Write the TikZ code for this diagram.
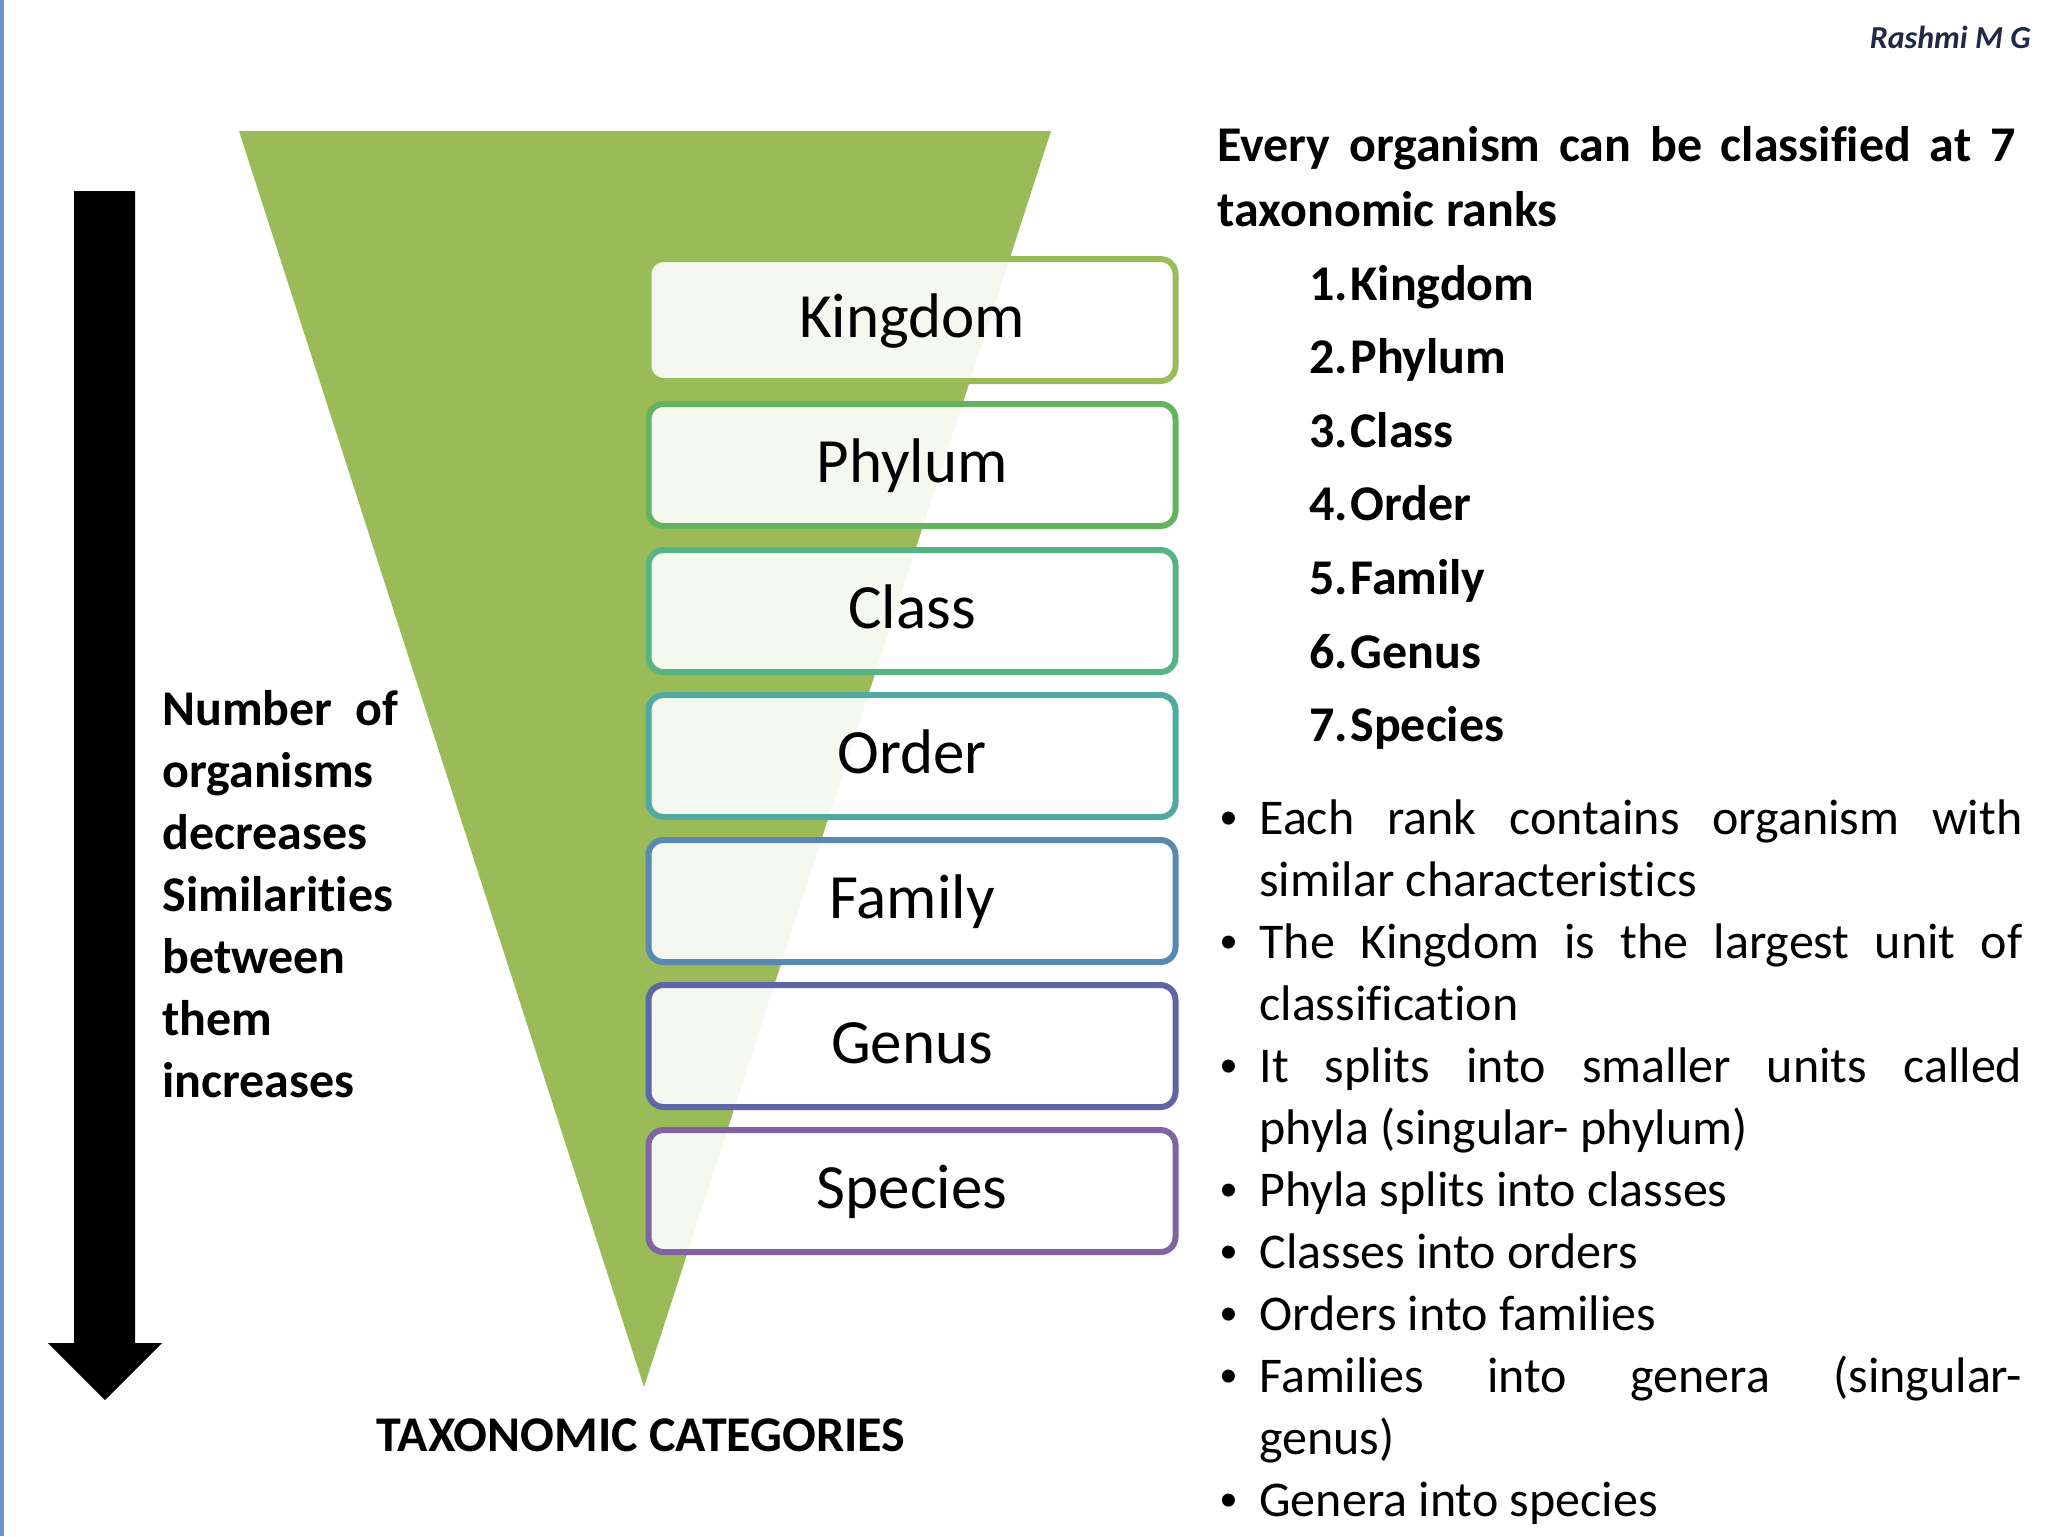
\documentclass[tikz,border=0pt]{standalone}
\usepackage{fontspec}
\setmainfont{Carlito}[Ligatures=NoCommon]
\newfontfamily\arialf{Liberation Sans}
\definecolor{tri}{HTML}{9BBB59}
\definecolor{cK}{HTML}{9BBB59}
\definecolor{cP}{HTML}{64B45F}
\definecolor{cC}{HTML}{55B482}
\definecolor{cO}{HTML}{50AAA0}
\definecolor{cF}{HTML}{5A88B0}
\definecolor{cG}{HTML}{5E66A8}
\definecolor{cS}{HTML}{8064A2}
\definecolor{edge}{HTML}{6F93C8}
\definecolor{sig}{HTML}{1F2A44}
\tikzset{
  rbox/.style={draw, line width=3pt, rounded corners=7.5pt, fill=white, fill opacity=0.9, text opacity=1,
    minimum width=263.5pt, minimum height=61pt, inner sep=0pt,
    font=\fontsize{31.5}{38}\selectfont, text height=20pt, text depth=3pt},
  txt/.style={anchor=base west, inner sep=0pt, font=\fontsize{25}{30}\selectfont},
  btxt/.style={anchor=base west, inner sep=0pt, font=\fontsize{25}{30}\selectfont\bfseries},
  bul/.style={anchor=base west, inner sep=0pt, font=\arialf\fontsize{24}{30}\selectfont},
}
\begin{document}
\begin{tikzpicture}[x=0.5pt, y=-0.5pt]
\useasboundingbox (0,0) rectangle (2048,1536);
\fill[white] (0,0) rectangle (2048,1536);
% left edge line
\fill[edge] (0,0) rectangle (4,1536);
% signature
\node[anchor=base east, inner sep=0pt, text=sig, font=\fontsize{16}{19}\selectfont\bfseries\itshape] (sign) at (2031,49) {Rashmi M G};
% triangle
\fill[tri] (239,131) -- (1051,131) -- (644,1387) -- cycle;
% arrow
\fill[black] (74,191) -- (135,191) -- (135,1343) -- (162,1343) -- (105,1400) -- (48,1343) -- (74,1343) -- cycle;
% boxes
\node[rbox, draw=cK] (kingdom) at (912,320) {Kingdom};
\node[rbox, draw=cP] (phylum) at (912,465) {Phylum};
\node[rbox, draw=cC] (class) at (912,611) {Class};
\node[rbox, draw=cO] (order) at (912,756) {Order};
\node[rbox, draw=cF] (family) at (912,901) {Family};
\node[rbox, draw=cG] (genus) at (912,1046) {Genus};
\node[rbox, draw=cS] (species) at (912,1191) {Species};
% left text
\node[btxt] (l1) at (162,725) {\makebox[118pt][s]{Number of}};
\node[btxt] (l2) at (162,787) {organisms};
\node[btxt] (l3) at (162,849) {decreases};
\node[btxt] (l4) at (162,911) {Similarities};
\node[btxt] (l5) at (162,973) {between};
\node[btxt] (l6) at (162,1035) {them};
\node[btxt] (l7) at (162,1097) {increases};
% bottom title
\node[anchor=base, inner sep=0pt, font=\fontsize{25}{30}\selectfont\bfseries] (title) at (641,1451) {TAXONOMIC CATEGORIES};
% right header
\node[btxt] (h1) at (1217,162) {\makebox[399pt][s]{Every organism can be classified at 7}};
\node[btxt] (h2) at (1217,226) {taxonomic ranks};
% numbered list
\node[btxt] (n1) at (1309,300) {1.};
\node[btxt] (r1) at (1350,300) {Kingdom};
\node[btxt] (n2) at (1309,373) {2.};
\node[btxt] (r2) at (1350,373) {Phylum};
\node[btxt] (n3) at (1309,447) {3.};
\node[btxt] (r3) at (1350,447) {Class};
\node[btxt] (n4) at (1309,520) {4.};
\node[btxt] (r4) at (1350,520) {Order};
\node[btxt] (n5) at (1309,594) {5.};
\node[btxt] (r5) at (1350,594) {Family};
\node[btxt] (n6) at (1309,668) {6.};
\node[btxt] (r6) at (1350,668) {Genus};
\node[btxt] (n7) at (1309,741) {7.};
\node[btxt] (r7) at (1350,741) {Species};
% bullets
\node[bul] (b1) at (1220,834) {•};
\node[txt] (t1) at (1259,834) {\makebox[381.5pt][s]{Each rank contains organism with}};
\node[txt] (t2) at (1259,896) {similar characteristics};
\node[bul] (b3) at (1220,958) {•};
\node[txt] (t3) at (1259,958) {\makebox[381.5pt][s]{The Kingdom is the largest unit of}};
\node[txt] (t4) at (1259,1020) {classification};
\node[bul] (b5) at (1220,1082) {•};
\node[txt] (t5) at (1259,1082) {\makebox[381.5pt][s]{It splits into smaller units called}};
\node[txt] (t6) at (1259,1144) {phyla (singular- phylum)};
\node[bul] (b7) at (1220,1206) {•};
\node[txt] (t7) at (1259,1206) {Phyla splits into classes};
\node[bul] (b8) at (1220,1268) {•};
\node[txt] (t8) at (1259,1268) {Classes into orders};
\node[bul] (b9) at (1220,1330) {•};
\node[txt] (t9) at (1259,1330) {Orders into families};
\node[bul] (b10) at (1220,1392) {•};
\node[txt] (t10) at (1259,1392) {\makebox[381.5pt][s]{Families into genera (singular-}};
\node[txt] (t11) at (1259,1454) {genus)};
\node[bul] (b12) at (1220,1516) {•};
\node[txt] (t12) at (1259,1516) {Genera into species};
\end{tikzpicture}
\end{document}
